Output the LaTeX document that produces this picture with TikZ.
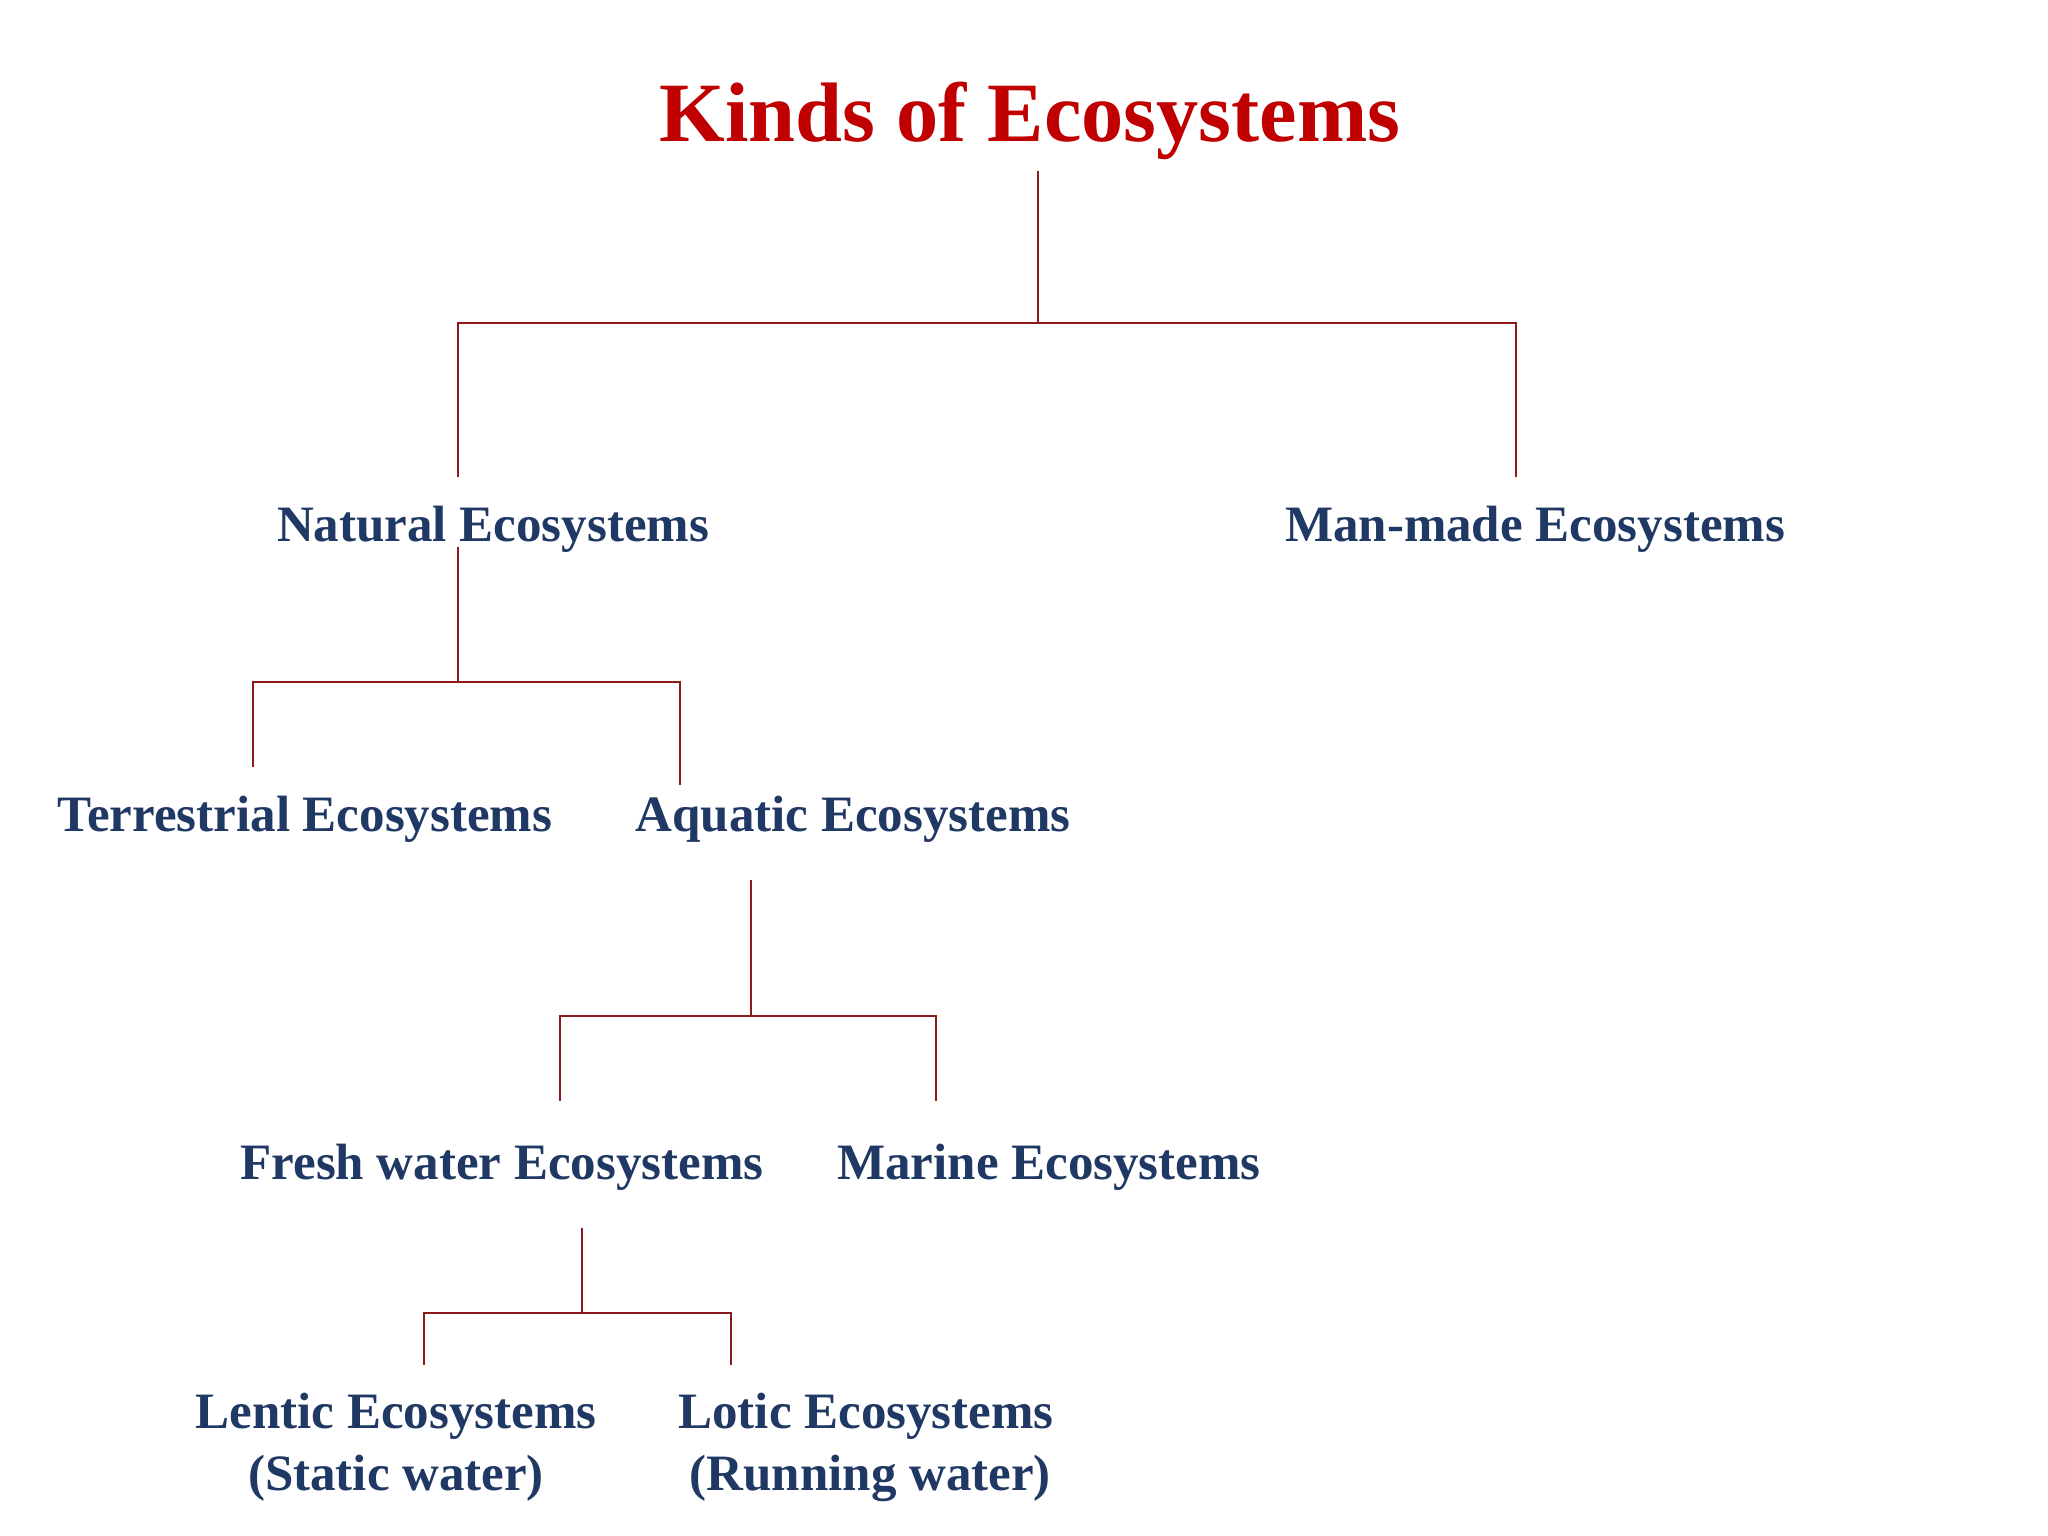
\documentclass[tikz,border=0pt]{standalone}
\usepackage{fontspec}
\setmainfont{Liberation Serif}
\definecolor{ecoblue}{RGB}{31,56,100}
\definecolor{ecored}{RGB}{192,0,0}
\definecolor{branchred}{RGB}{139,26,26}
\tikzset{
    title node/.style = {
        text = ecored,
        font = \fontsize{24}{29}\selectfont\bfseries,
        anchor = base,
        inner sep = 0pt,
        },
    kind/.style = {
        text = ecoblue,
        font = \fontsize{14.5}{17.4}\selectfont\bfseries,
        anchor = base,
        inner sep = 0pt,
        },
    branch/.style = {
        draw = branchred,
        line width = 0.7pt,
        },
}

\begin{document}
\begin{tikzpicture}[x=0.01cm, y=-0.01cm]
            \fill[white] (0,0) rectangle (2048,1536);
            \useasboundingbox (0,0) rectangle (2048,1536);

            \node[title node] (kinds) at (1030,141) {Kinds of Ecosystems};
            \node[kind] (natural) at (493,541) {Natural Ecosystems};
            \node[kind] (manmade) at (1535,541) {Man-made Ecosystems};
            \node[kind] (terrestrial) at (305,831) {Terrestrial Ecosystems};
            \node[kind] (aquatic) at (853,831) {Aquatic Ecosystems};
            \node[kind] (fresh) at (502,1179) {Fresh water Ecosystems};
            \node[kind] (marine) at (1049,1179) {Marine Ecosystems};
            \node[kind, align=center] (lentic) at (396,1490) {Lentic Ecosystems\\(Static water)};
            \node[kind, align=center] (lotic) at (866,1490) {Lotic Ecosystems\\\,(Running water)};

            % branch ends and joints
            \coordinate (kinds-s) at (1038,171);
            \coordinate (j0) at (1038,323);
            \coordinate (natural-n) at (458,477);
            \coordinate (manmade-n) at (1516,477);
            \coordinate (natural-s) at (458,547);
            \coordinate (j1) at (458,682);
            \coordinate (terrestrial-n) at (253,767);
            \coordinate (aquatic-n) at (680,785);
            \coordinate (aquatic-s) at (751,880);
            \coordinate (j2) at (751,1016);
            \coordinate (fresh-n) at (560,1101);
            \coordinate (marine-n) at (936,1101);
            \coordinate (fresh-s) at (582,1228);
            \coordinate (j3) at (582,1313);
            \coordinate (lentic-n) at (424,1365);
            \coordinate (lotic-n) at (731,1365);

            \path[branch] (kinds-s) -- (j0);
            \path[branch] (natural-n) |- (j0) -| (manmade-n);
            \path[branch] (natural-s) -- (j1);
            \path[branch] (terrestrial-n) |- (j1) -| (aquatic-n);
            \path[branch] (aquatic-s) -- (j2);
            \path[branch] (fresh-n) |- (j2) -| (marine-n);
            \path[branch] (fresh-s) -- (j3);
            \path[branch] (lentic-n) |- (j3) -| (lotic-n);
        \end{tikzpicture}
\end{document}
